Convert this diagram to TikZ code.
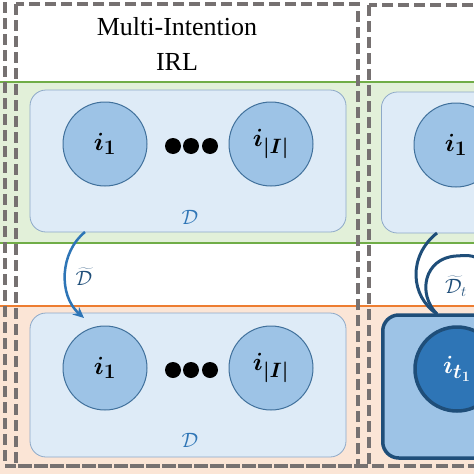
\documentclass[tikz,border=0pt]{standalone}
\usepackage{fontspec}
\setmainfont{Liberation Serif}
\usetikzlibrary{arrows.meta}
\definecolor{bandgreen}{HTML}{E2F0D9}
\definecolor{linegreen}{HTML}{70AD47}
\definecolor{bandorange}{HTML}{FBE5D6}
\definecolor{lineorange}{HTML}{ED7D31}
\definecolor{dashgray}{HTML}{767171}
\definecolor{paleblue}{HTML}{DEEBF7}
\definecolor{paleedge}{HTML}{8EA9C8}
\definecolor{midblue}{HTML}{9DC3E6}
\definecolor{circedge}{HTML}{41719C}
\definecolor{strongblue}{HTML}{2E75B6}
\definecolor{navy}{HTML}{1F4E79}
\tikzset{
  dashbox/.style={draw=dashgray,line width=3.5pt,dash pattern=on 11pt off 5pt},
  panel/.style={draw=paleedge,line width=0.8pt,fill=paleblue,rounded corners=16pt,minimum width=316pt,inner sep=0pt},
  intent/.style={circle,draw=circedge,line width=1pt,fill=midblue,minimum size=84pt,inner sep=0pt,font=\fontsize{28}{30}\selectfont\boldmath},
  dotmark/.style={circle,fill=black,minimum size=16pt,inner sep=0pt},
  dlabel/.style={text=strongblue,font=\fontsize{22}{26}\selectfont,inner sep=0pt},
  darkpanel/.style={draw=navy,line width=3.5pt,fill=midblue,rounded corners=16pt,inner sep=0pt},
  darkintent/.style={circle,draw=navy,line width=3.5pt,fill=strongblue,minimum size=84pt,inner sep=0pt,text=white,font=\fontsize{28}{30}\selectfont\boldmath},
  flow/.style={draw=strongblue,line width=2.5pt,-{Stealth[length=11pt,width=10pt]}},
  loopline/.style={draw=navy,line width=3pt},
}
\begin{document}
\begin{tikzpicture}[x=1pt,y=-1pt]
\useasboundingbox (0,0) rectangle (474,474);
\clip (0,0) rectangle (474,474);
% bands
\fill[bandgreen] (0,82) rectangle (474,243);
\draw[linegreen,line width=1.2pt] (0,82) -- (474,82) (0,243) -- (474,243);
\fill[bandorange] (0,306) rectangle (474,480);
\draw[lineorange,line width=1.2pt] (0,306) -- (474,306);
% dashed frames
\draw[dashbox] (5,-30) rectangle (520,466);
\draw[dashbox] (16,4) rectangle (358,466);
\draw[dashbox] (369,5) rectangle (520,466);
% title
\node[align=center,font=\fontsize{26}{35}\selectfont,inner sep=0pt] (title) at (177,43.5) {Multi-Intention\\IRL};
% left top panel
\node[panel,minimum height=142pt] (topD) at (188,161) {};
\node[intent] (ta) at (105,144) {$i_1$};
\node[intent] (tb) at (271,144) {$i_{|I|}$};
\node[dotmark] (td1) at (173,146) {};
\node[dotmark] (td2) at (191,146) {};
\node[dotmark] (td3) at (210,146) {};
\node[dlabel] (tDl) at (190,217) {$\mathcal{D}$};
% left bottom panel
\node[panel,minimum height=144pt] (botD) at (188,385) {};
\node[intent] (ba) at (105,368) {$i_1$};
\node[intent] (bb) at (271,368) {$i_{|I|}$};
\node[dotmark] (bd1) at (173,370) {};
\node[dotmark] (bd2) at (191,370) {};
\node[dotmark] (bd3) at (210,370) {};
\node[dlabel] (bDl) at (190,440) {$\mathcal{D}$};
% arrow between panels
\coordinate (aStart) at (85,232);
\coordinate (aEnd) at (84,318);
\draw[flow] (aStart) .. controls (60,252) and (58,295) .. (aEnd);
\node[text=navy,font=\fontsize{22}{26}\selectfont,inner sep=0pt] (dtil) at (84,277) {$\widetilde{\mathcal{D}}$};
% right top panel
\node[panel,minimum width=320pt,minimum height=141pt,anchor=west] (rtop) at (381,162.5) {};
\node[intent] (ra) at (456,145) {$i_1$};
% right bottom dark panel
\node[darkpanel,minimum width=320pt,minimum height=143pt,anchor=west] (rbot) at (381,386.5) {};
\node[darkintent] (rc) at (457,369) {$i_{t_1}$};
% loop
\coordinate (lStart) at (437,233);
\coordinate (lEnd) at (437,314);
\coordinate (lOut) at (490,264);
\draw[loopline] (lStart) .. controls (408,256) and (410,296) .. (lEnd);
\draw[loopline] (lEnd) .. controls (417,294) and (424,258) .. (456,256) .. controls (472,255) .. (lOut);
\node[text=navy,font=\fontsize{22}{26}\selectfont,inner sep=0pt,anchor=west] (dtilt) at (445,286) {$\widetilde{\mathcal{D}}_t$};
\end{tikzpicture}
\end{document}
